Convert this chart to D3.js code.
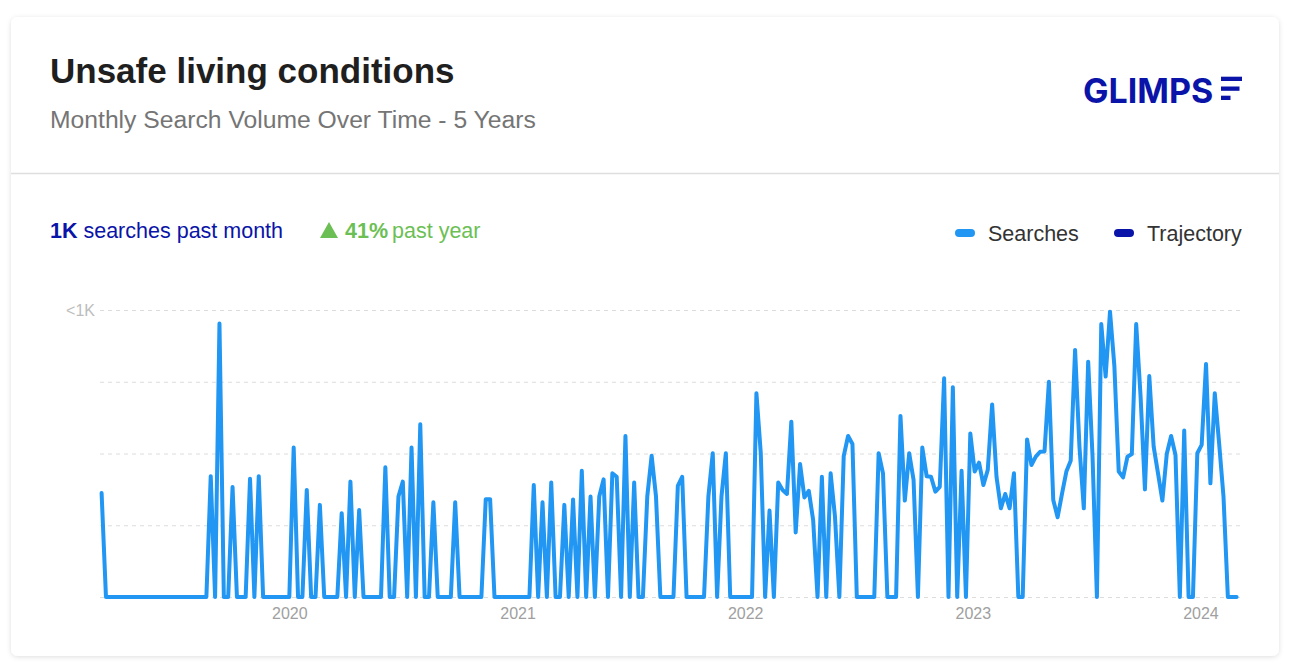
<!DOCTYPE html>
<html>
<head>
<meta charset="utf-8">
<script src="https://cdn.jsdelivr.net/npm/d3@7"></script>
<style>
  body { margin: 0; background: #ffffff; font-family: "Liberation Sans", Arial, sans-serif; }
  svg { display: block; }
</style>
</head>
<body>
<div id="chart"></div>
<script>
// canvas size
var width = 1292,
    height = 669;

// chart data: weekly search volume, first week of the series
var startDate = new Date(2019, 2, 6);
var searches = [
  362,0,0,0,0,0,0,0,0,0,
  0,0,0,0,0,0,0,0,0,0,
  0,0,0,0,0,421,0,953,0,0,
  383,0,0,0,412,0,421,0,0,0,
  0,0,0,0,521,0,0,373,0,0,
  321,0,0,0,0,292,0,402,0,303,
  0,0,0,0,0,452,0,0,350,402,
  0,521,0,602,0,0,330,0,0,0,
  0,330,0,0,0,0,0,0,341,341,
  0,0,0,0,0,0,0,0,0,390,
  0,330,0,399,0,0,321,0,340,0,
  440,0,350,0,350,410,0,431,419,0,
  561,0,399,0,0,350,492,350,0,0,
  0,0,387,419,0,0,0,0,0,350,
  501,0,350,501,0,0,0,0,0,0,
  710,501,0,301,0,399,373,359,611,225,
  463,347,370,268,0,419,0,431,280,0,
  491,561,533,0,0,0,0,0,501,431,
  0,0,0,631,336,501,408,0,521,421,
  419,367,384,762,0,731,0,440,0,570,
  437,468,390,443,671,419,309,359,309,431,
  0,0,549,460,489,506,507,750,338,278,
  359,437,475,861,524,309,820,489,0,951,
  768,994,805,437,417,489,498,951,700,375,
  770,524,431,336,498,561,495,0,580,0,
  0,501,530,812,396,710,535,350,0,0,
  0
];
var yTicks = [0, 250, 500, 750, 1000];
var yTickLabels = {1000: "<1K"};
var legendItems = ["Searches", "Trajectory"];
var legendColors = ["#2196f3", "#0a14a8"];

var dates = searches.map(function(v, i) { return d3.timeDay.offset(startDate, i * 7); });

var svg = d3.select("#chart")
  .append("svg")
  .attr("width", width)
  .attr("height", height);

// soft card shadow
var defs = svg.append("defs");
var filter = defs.append("filter").attr("id", "shadow")
  .attr("x", "-5%").attr("y", "-5%").attr("width", "110%").attr("height", "110%");
filter.append("feDropShadow")
  .attr("dx", 0).attr("dy", 1)
  .attr("stdDeviation", 2.5)
  .attr("flood-color", "#000")
  .attr("flood-opacity", 0.13);

svg.append("rect")
  .attr("x", 11).attr("y", 17)
  .attr("width", 1268).attr("height", 639)
  .attr("rx", 7)
  .attr("fill", "#fff")
  .attr("filter", "url(#shadow)");

// header divider
svg.append("line")
  .attr("x1", 11).attr("x2", 1279)
  .attr("y1", 173.5).attr("y2", 173.5)
  .attr("stroke", "#dedede")
  .attr("stroke-width", 1.5);

// title + subtitle
svg.append("text")
  .attr("x", 50).attr("y", 83)
  .attr("font-size", "35px")
  .attr("font-weight", "bold")
  .attr("fill", "#1f1f1f")
  .text("Unsafe living conditions");

svg.append("text")
  .attr("x", 50).attr("y", 128)
  .attr("font-size", "24.7px")
  .attr("fill", "#757575")
  .text("Monthly Search Volume Over Time - 5 Years");

// GLIMPSE logo
var logo = svg.append("g").attr("transform", "translate(1083,103)");
logo.append("text")
  .attr("x", 0).attr("y", 0)
  .attr("font-family", "Inter, 'Open Sans', sans-serif")
  .attr("font-size", "34px")
  .attr("font-weight", "bold")
  .attr("fill", "#0a14a8")
  .text("GLIMPS");
var logoBars = [{y: -26.3, w: 21}, {y: -16.5, w: 18.5}, {y: -7.3, w: 9.5}];
logo.selectAll(".bar").data(logoBars).enter().append("rect")
  .attr("class", "bar")
  .attr("x", 138)
  .attr("y", function(d) { return d.y; })
  .attr("width", function(d) { return d.w; })
  .attr("height", 4.3)
  .attr("fill", "#0a14a8");

// summary line
var summary = svg.append("text")
  .attr("x", 50).attr("y", 238)
  .attr("font-size", "21.5px")
  .attr("fill", "#0a14a8");
summary.append("tspan").attr("font-weight", "bold").text("1K");
summary.append("tspan").text(" searches past month");

svg.append("path")
  .attr("d", "M320,238 L329,222 L338,238 Z")
  .attr("fill", "#6cbf55");
var growth = svg.append("text")
  .attr("x", 345).attr("y", 238)
  .attr("font-size", "21.5px")
  .attr("fill", "#6cbf55");
growth.append("tspan").attr("font-weight", "bold").text("41%");
growth.append("tspan").attr("dx", -2).text(" past year");

// legend
var legendX = [955, 1114];
var legend = svg.selectAll(".legend")
  .data(legendItems)
  .enter().append("g")
  .attr("class", "legend")
  .attr("transform", function(d, i) { return "translate(" + legendX[i] + ",233)"; });

legend.append("rect")
  .attr("x", 0).attr("y", -4)
  .attr("width", 20).attr("height", 8)
  .attr("rx", 4)
  .attr("fill", function(d, i) { return legendColors[i]; });

legend.append("text")
  .attr("x", 33).attr("y", 8)
  .attr("font-size", "21.5px")
  .attr("fill", "#333")
  .text(function(d) { return d; });

// scales
var x = d3.scaleTime()
  .domain([dates[0], dates[dates.length - 1]])
  .range([101.6, 1236.6]);

var y = d3.scaleLinear()
  .domain([0, 1000])
  .range([597, 310]);

// dashed grid lines
var grid = svg.append("g")
  .attr("transform", "translate(100,0)")
  .call(d3.axisLeft(y)
    .tickValues(yTicks)
    .tickSize(-1140)
    .tickPadding(5)
    .tickFormat(function(d) { return yTickLabels[d] || ""; }));
grid.select(".domain").remove();
grid.selectAll(".tick line")
  .attr("stroke", "#dcdcdc")
  .attr("stroke-dasharray", "4,4")
  .attr("stroke-width", 1);
grid.selectAll(".tick text")
  .attr("font-family", "Liberation Sans, Arial, sans-serif")
  .attr("font-size", "16px")
  .attr("fill", "#bdbdbd");

// x axis (year labels)
var xAxis = svg.append("g")
  .attr("transform", "translate(0,597)")
  .call(d3.axisBottom(x)
    .ticks(d3.timeYear.every(1))
    .tickFormat(d3.timeFormat("%Y"))
    .tickSize(0)
    .tickPadding(11));
xAxis.select(".domain").remove();
xAxis.selectAll(".tick text")
  .attr("font-family", "Liberation Sans, Arial, sans-serif")
  .attr("font-size", "16px")
  .attr("fill", "#a0a0a0");

// search line
var line = d3.line()
  .x(function(d, i) { return x(dates[i]); })
  .y(function(d) { return y(d); });

svg.append("path")
  .datum(searches)
  .attr("d", line)
  .attr("fill", "none")
  .attr("stroke", "#2196f3")
  .attr("stroke-width", 4)
  .attr("stroke-linejoin", "round")
  .attr("stroke-linecap", "round");
</script>
</body>
</html>
